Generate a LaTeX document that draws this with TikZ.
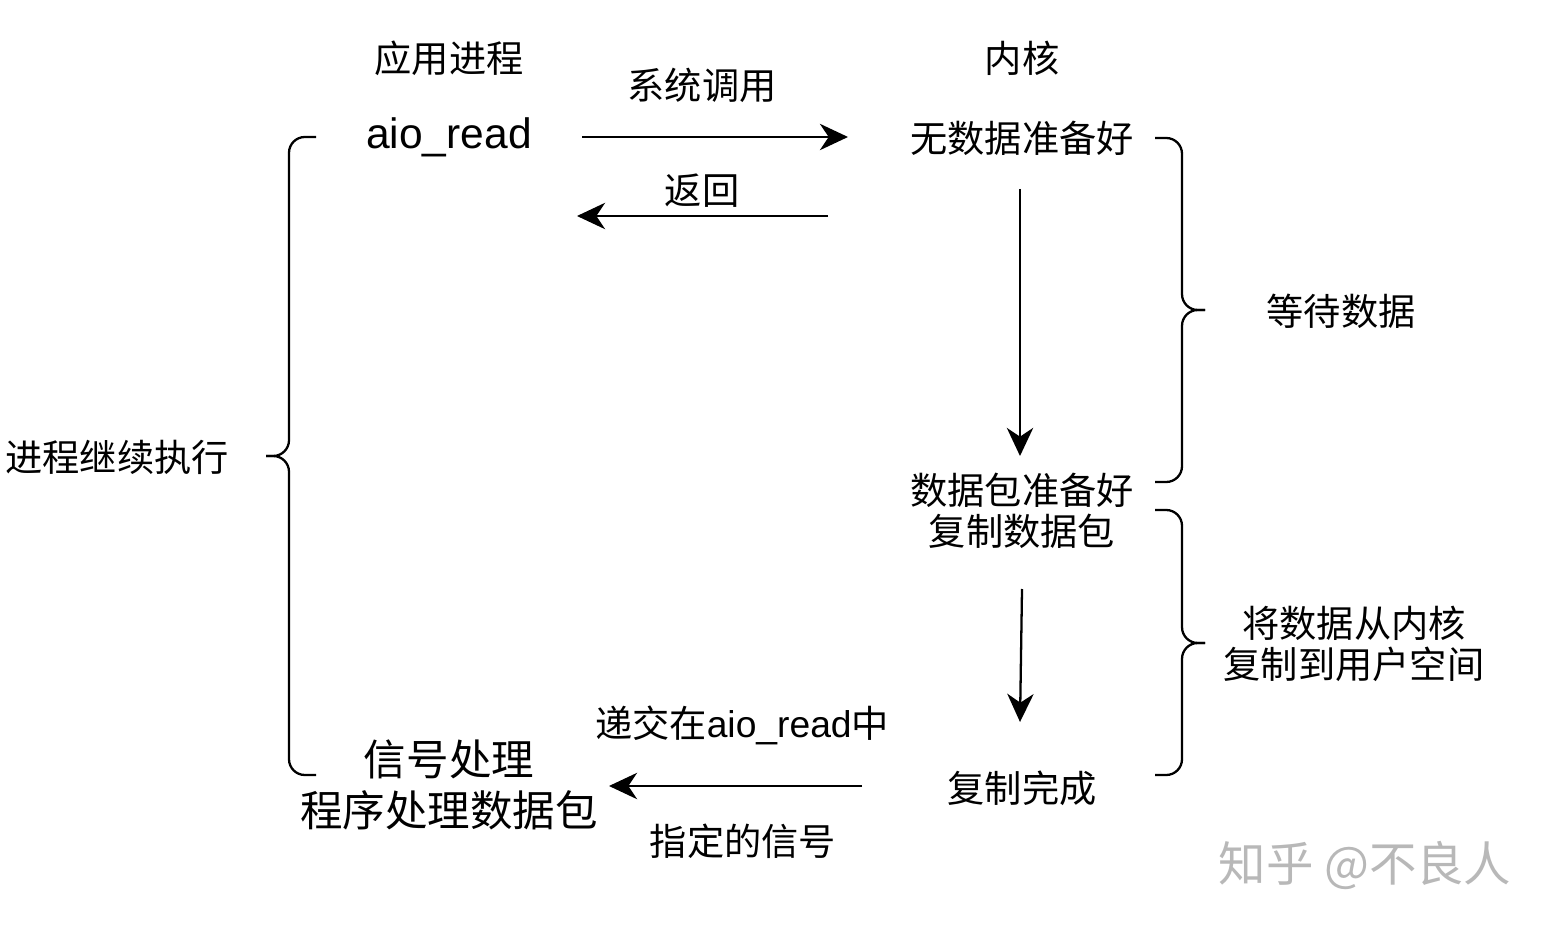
\documentclass[tikz,border=0pt]{standalone}
\usepackage{fontspec}
\setmainfont{Liberation Sans}
\newfontfamily\cjk{Noto Sans CJK SC}
\usetikzlibrary{arrows.meta}
\tikzset{
    label/.style={inner sep=0pt, align=center, font=\cjk\fontsize{21.2}{23.5}\selectfont},
    biglabel/.style={inner sep=0pt, align=center, font=\cjk\fontsize{24.2}{29}\selectfont},
    arrow/.style={-{Stealth[length=16pt,width=15pt,inset=5pt]}, line width=1.3pt},
    brace/.style={line width=1.3pt, rounded corners=9pt},
}
\begin{document}
\begin{tikzpicture}[x=0.02cm, y=-0.02cm]
    \useasboundingbox (0,0) rectangle (1550,928);

    \node[label] (app) at (449,58) {应用进程};
    \node[label] (kernel) at (1022,58) {内核};
    \node[biglabel] (aio) at (449,137) {\rmfamily aio\_read};
    \node[label] (nodata) at (1022,138) {无数据准备好};
    \node[label] (ready) at (1022,511) {数据包准备好\\复制数据包};
    \node[label] (done) at (1022,788) {复制完成};
    \node[biglabel] (signal) at (449,785) {信号处理\\程序处理数据包};
    \node[label] (syscall) at (702,85) {系统调用};
    \node[label] (ret) at (702,191) {返回};
    \node[label] (deliver) at (742,725) {递交在{\rmfamily aio\_read}中};
    \node[label] (given) at (743,841) {指定的信号};
    \node[label] (cont) at (117,457) {进程继续执行};
    \node[label] (wait) at (1341,311) {等待数据};
    \node[label] (copy) at (1354,644) {将数据从内核\\复制到用户空间};
    \node[text=black!28, inner sep=0pt, font=\cjk\fontsize{27}{32}\selectfont] (mark) at (1365,865) {知乎 @不良人};

    % arrows
    \coordinate (a1) at (582,137);
    \coordinate (a2) at (848,137);
    \coordinate (b1) at (828,216);
    \coordinate (b2) at (577,216);
    \coordinate (c1) at (1020,189);
    \coordinate (c2) at (1020,456);
    \coordinate (d1) at (1022,589);
    \coordinate (d2) at (1020,722);
    \coordinate (e1) at (862,786);
    \coordinate (e2) at (609,786);
    \draw[arrow] (a1) -- (a2);
    \draw[arrow] (b1) -- (b2);
    \draw[arrow] (c1) -- (c2);
    \draw[arrow] (d1) -- (d2);
    \draw[arrow] (e1) -- (e2);

    % braces
    \draw[brace] (316,137) -- (289,137) -- (289,456) -- (266,456);
    \draw[brace] (316,775) -- (289,775) -- (289,456) -- (266,456);
    \draw[brace] (1155,138) -- (1182,138) -- (1182,310) -- (1205,310);
    \draw[brace] (1155,482) -- (1182,482) -- (1182,310) -- (1205,310);
    \draw[brace] (1155,510) -- (1182,510) -- (1182,643) -- (1205,643);
    \draw[brace] (1155,775) -- (1182,775) -- (1182,643) -- (1205,643);
\end{tikzpicture}
\end{document}
